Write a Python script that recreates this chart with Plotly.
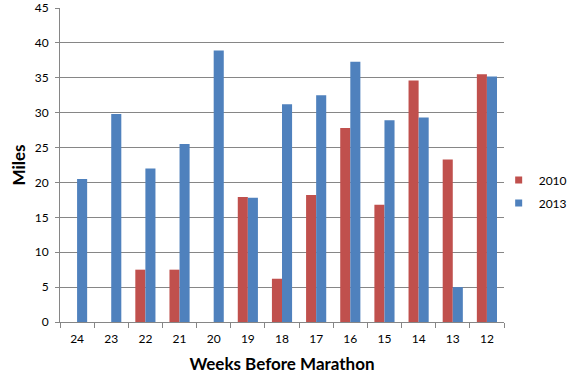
import plotly.graph_objects as go

weeks = ["24", "23", "22", "21", "20", "19", "18", "17", "16", "15", "14", "13", "12"]
miles_2010 = [None, None, 7.5, 7.5, None, 17.9, 6.2, 18.2, 27.8, 16.8, 34.6, 23.3, 35.5]
miles_2013 = [20.5, 29.8, 22.0, 25.5, 38.9, 17.8, 31.2, 32.5, 37.3, 28.9, 29.3, 5.0, 35.2]
series_names = ["2010", "2013"]
colors = ["#C0504D", "#4F81BD"]

FONT = "Lato, 'Open Sans', sans-serif"
GRID = "#868686"

fig = go.Figure()
for name, vals, col in zip(series_names, [miles_2010, miles_2013], colors):
    fig.add_trace(go.Bar(x=weeks, y=vals, name=name, marker=dict(color=col, line=dict(width=0)),
                         showlegend=False))
    fig.add_trace(go.Scatter(x=[None], y=[None], mode="markers", name=name, legendgroup=name,
                             marker=dict(symbol="square", size=7, color=col)))

fig.update_layout(
    width=575, height=383,
    margin=dict(l=60, r=71, t=8, b=61, autoexpand=False),
    paper_bgcolor="white", plot_bgcolor="white",
    barmode="group", bargap=0.41, bargroupgap=0,
    font=dict(family=FONT, size=12, color="#000000"),
    legend=dict(x=0.988, xanchor="left", xref="paper", y=0.416, yanchor="middle",
                bgcolor="rgba(0,0,0,0)", font=dict(size=12, family=FONT, color="#000"),
                itemwidth=30, tracegroupgap=4, traceorder="grouped"),
)
fig.update_xaxes(
    type="category", showline=True, linecolor=GRID, linewidth=1,
    ticks="outside", tickson="boundaries", ticklen=5, tickcolor=GRID,
    ticklabelstandoff=6,
    showgrid=False, tickfont=dict(size=12, family=FONT),
    title=dict(text="<b>Weeks Before Marathon</b>", font=dict(size=17, family=FONT), standoff=12),
)
fig.update_yaxes(
    range=[0, 45], dtick=5, showline=True, linecolor=GRID, linewidth=1,
    ticks="outside", ticklen=4, tickcolor=GRID,
    ticklabelstandoff=4,
    showgrid=True, gridcolor=GRID, gridwidth=1, zeroline=False,
    tickfont=dict(size=12, family=FONT),
    title=dict(text="<b>Miles</b>", font=dict(size=17, family=FONT), standoff=4),
)

fig.write_html("out.html", config={"displayModeBar": False},
               post_script="document.body.style.margin='0';")
